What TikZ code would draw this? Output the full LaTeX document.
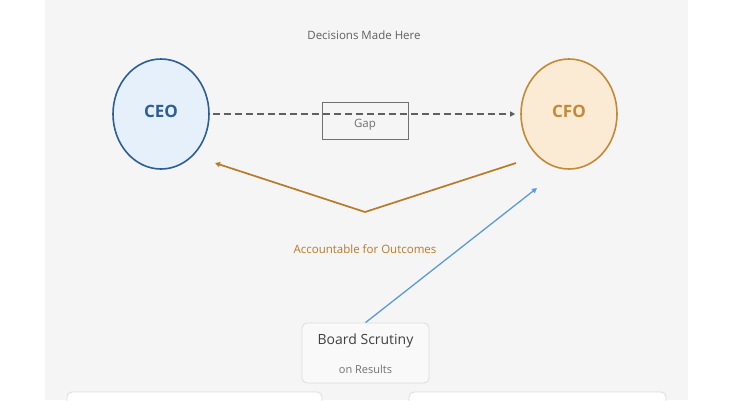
\documentclass[tikz,border=0pt]{standalone}
\usepackage{fontspec}
\setmainfont{Open Sans}
\usepackage{xcolor}
\usetikzlibrary{arrows.meta,positioning,shapes.geometric}
\definecolor{cPanel}{HTML}{F5F5F5}
\definecolor{cCeo}{HTML}{2C5F95}
\definecolor{cCeoFill}{HTML}{E6F0FB}
\definecolor{cCfo}{HTML}{C48A36}
\definecolor{cCfoFill}{HTML}{FCEBD4}
\definecolor{cAcct}{HTML}{B97A2A}
\definecolor{cBoard}{HTML}{5B9BD5}
\definecolor{cInk}{HTML}{606060}
\definecolor{cEdge}{HTML}{DDDDDD}
\tikzset{
  role/.style   = {ellipse, line width=1.6pt, minimum width=96pt,
                   minimum height=110pt, inner sep=0pt, text depth=5pt,
                   font=\fontsize{17}{20}\selectfont\bfseries},
  ceo/.style    = {role, draw=cCeo, fill=cCeoFill, text=cCeo},
  cfo/.style    = {role, draw=cCfo, fill=cCfoFill, text=cCfo},
  card/.style   = {draw=cEdge, rounded corners=5pt, line width=0.8pt},
  note/.style   = {font=\fontsize{11.5}{14}\selectfont},
  flow/.style   = {-{Triangle[length=5pt,width=5pt]}, line width=1.7pt},
}

\begin{document}
\begin{tikzpicture}[x=1pt, y=-1pt]
  \clip (0,0) rectangle (730,400);
  \fill[cPanel] (45,0) rectangle (688,400);
  % heading
  \node[note, text=cInk] (head) at (364,35) {Decisions Made Here};
  % roles
  \node[ceo] (CEO) at (161,114) {CEO};
  \node[cfo] (CFO) at (569,114) {CFO};
  \node[draw=cInk!90, line width=0.6pt, minimum width=86pt, minimum height=37pt,
        text height=14pt, text depth=0pt, note, text=cInk!90]
    (gap) at (365,120.5) {Gap};
  \draw[flow, cInk, dash pattern=on 7pt off 4pt, shorten <=3pt, shorten >=5pt]
    (CEO.east) -- (CFO.west);
  % accountability
  \coordinate (acctIn)  at (516,163);
  \coordinate (acctMid) at (365,212);
  \coordinate (acctOut) at (215,163);
  \draw[flow, cAcct] (acctIn) -- (acctMid) -- (acctOut);
  \node[note, text=cAcct] (acct) at (365,249) {Accountable for Outcomes};
  % board
  \node[card, fill=cPanel!60!white, minimum width=127pt, minimum height=60pt]
    (board) at (365.5,353) {};
  \node[font=\fontsize{14}{17}\selectfont, text=black!75] (boardT)
    at (365.5,341) {Board Scrutiny};
  \node[font=\fontsize{11}{13}\selectfont, text=black!55] (boardS)
    at (365.5,369) {on Results};
  \coordinate (boardTo) at (537,188);
  \draw[flow, cBoard, line width=1.3pt] (board.north) -- (boardTo);
  % lower cards
  \node[card, fill=white, minimum width=255pt, minimum height=40pt]
    (lowL) at (194.5,412) {};
  \node[card, fill=white, minimum width=257pt, minimum height=40pt]
    (lowR) at (537.5,412) {};
\end{tikzpicture}
\end{document}
